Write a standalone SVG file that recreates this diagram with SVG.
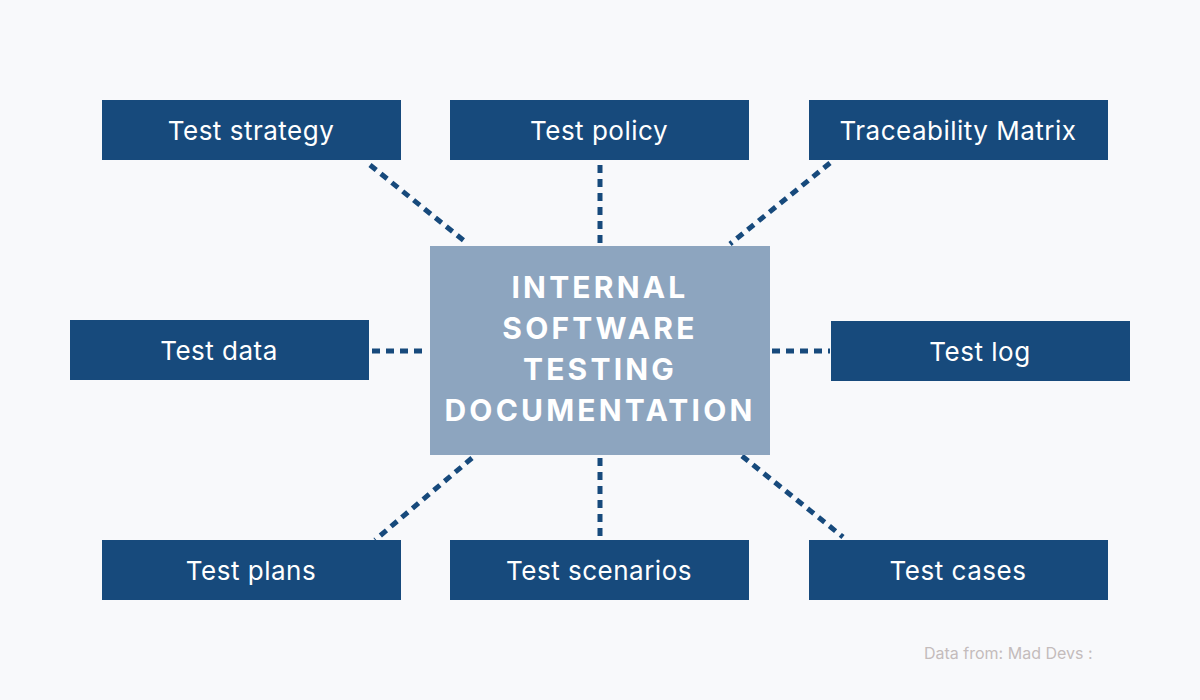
<svg xmlns="http://www.w3.org/2000/svg" width="1200" height="700" viewBox="0 0 1200 700">
<style>
.n{fill:#174a7c}
.t{fill:#fff;font-family:Inter,"Open Sans",sans-serif;font-size:26px;letter-spacing:0.5px;text-anchor:middle;dominant-baseline:central}
.c{fill:#fff;font-family:Inter,"Open Sans",sans-serif;font-size:30px;font-weight:bold;letter-spacing:3.2px;text-anchor:middle}
#connectors line{stroke:#174a7c;stroke-width:5;stroke-dasharray:8 6}
</style>
<rect width="1200" height="700" fill="#f8f9fb"/>
<g id="connectors">
<line x1="370" y1="165" x2="468" y2="244"/>
<line x1="600" y1="165" x2="600" y2="243"/>
<line x1="830" y1="163" x2="730" y2="244"/>
<line x1="372" y1="351" x2="428" y2="351"/>
<line x1="772" y1="351" x2="830" y2="351"/>
<line x1="472" y1="458" x2="375" y2="540"/>
<line x1="600" y1="458" x2="600" y2="538"/>
<line x1="742" y1="456" x2="843" y2="537"/>
</g>
<g id="center"><rect x="430" y="246" width="340" height="209" fill="#8da5bf"/>
<text class="c" x="600" y="298">INTERNAL</text><text class="c" x="600" y="339">SOFTWARE</text><text class="c" x="600" y="380">TESTING</text><text class="c" x="600" y="421">DOCUMENTATION</text></g>
<g id="n1"><rect class="n" x="102" y="100" width="299" height="60"/><text class="t" x="251" y="130">Test strategy</text></g>
<g id="n2"><rect class="n" x="450" y="100" width="299" height="60"/><text class="t" x="599" y="130">Test policy</text></g>
<g id="n3"><rect class="n" x="809" y="100" width="299" height="60"/><text class="t" x="958" y="130">Traceability Matrix</text></g>
<g id="n4"><rect class="n" x="70" y="320" width="299" height="60"/><text class="t" x="219" y="350">Test data</text></g>
<g id="n5"><rect class="n" x="831" y="321" width="299" height="60"/><text class="t" x="980" y="351">Test log</text></g>
<g id="n6"><rect class="n" x="102" y="540" width="299" height="60"/><text class="t" x="251" y="570">Test plans</text></g>
<g id="n7"><rect class="n" x="450" y="540" width="299" height="60"/><text class="t" x="599" y="570">Test scenarios</text></g>
<g id="n8"><rect class="n" x="809" y="540" width="299" height="60"/><text class="t" x="958" y="570">Test cases</text></g>
<text x="924" y="659" font-family="Inter,'Open Sans',sans-serif" font-size="16" fill="#c4bcbc">Data from: Mad Devs :</text>
</svg>
